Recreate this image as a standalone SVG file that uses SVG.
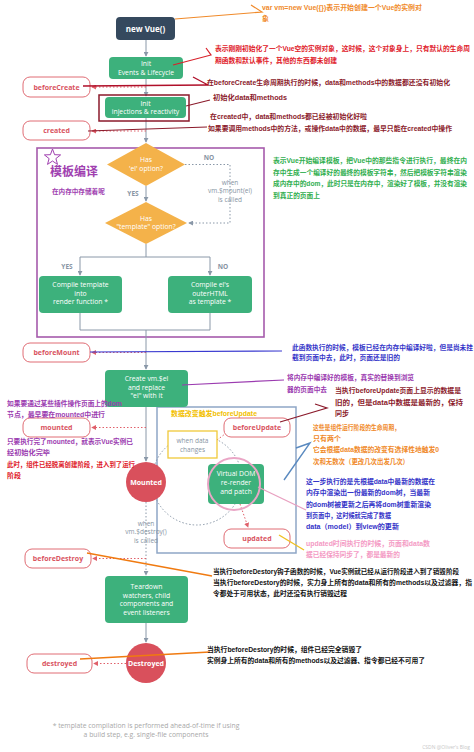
<svg xmlns="http://www.w3.org/2000/svg" width="474" height="752" viewBox="0 0 474 752">
<defs>
<style>
.flow{stroke:#8a98a8;stroke-width:1;fill:none}
.dot{stroke:#8a98a8;stroke-width:1;fill:none;stroke-dasharray:1.5 2}
.rdot{stroke:#e0606a;stroke-width:1;fill:none;stroke-dasharray:1.5 2}
.g rect{fill:#3db17c}
.g text,.c text,.d text{fill:#fff;font-family:"Open Sans","Noto Sans",sans-serif;font-size:6.8px;text-anchor:middle}
.d polygon{fill:#f4b24a}
.hook rect{fill:#fff;stroke:#e06d75;stroke-width:1}
.hook text{fill:#d9545f;font-family:"Open Sans","Noto Sans",sans-serif;font-weight:bold;font-size:7px;text-anchor:middle}
.c circle{fill:#d9505c}
.c text{font-weight:bold;font-size:7px}
.lbl{fill:#8794a3;font-family:"Open Sans","Noto Sans",sans-serif;font-size:6.5px;text-anchor:middle}
.lblb{fill:#8794a3;font-family:"Open Sans","Noto Sans",sans-serif;font-size:6.5px;font-weight:bold;text-anchor:middle}
.ann{font-family:"Liberation Sans","Noto Sans CJK SC",sans-serif;font-weight:bold;font-size:7px}
.sm{font-size:6.3px}
</style>
<marker id="ag" viewBox="0 0 6 6" refX="5" refY="3" markerWidth="5" markerHeight="5" orient="auto"><path d="M0,0L6,3L0,6z" fill="#8a98a8"/></marker>
<marker id="ar" viewBox="0 0 6 6" refX="5" refY="3" markerWidth="5" markerHeight="5" orient="auto"><path d="M0,0L6,3L0,6z" fill="#e0606a"/></marker>
</defs>
<rect width="474" height="752" fill="#fff"/>

<!-- background frames -->
<g id="template-compile-frame">
<rect x="37" y="148" width="227" height="189" fill="none" stroke="#a65aac" stroke-width="1.6"/>
<polygon points="52.5,149 54.6,154.7 60.6,154.9 55.9,158.6 57.5,164.4 52.5,161 47.5,164.4 49.1,158.6 44.4,154.9 50.4,154.7" fill="none" stroke="#a040b0" stroke-width="1"/>
<text x="50" y="176" font-family="Liberation Sans,Noto Sans CJK SC,sans-serif" font-weight="bold" font-size="12" fill="#a040b0">模板编译</text>
<text x="52" y="193.5" font-family="Liberation Sans,Noto Sans CJK SC,sans-serif" font-weight="bold" font-size="6.6" fill="#a040b0">在内存中存储着呢</text>
</g>
<g id="update-frame">
<rect x="157" y="407" width="139" height="146" fill="none" stroke="#8ea6c6" stroke-width="1.5"/>
<circle cx="197" cy="480" r="45" class="dot"/>
<text x="171" y="415.5" class="ann" fill="#f2c000" textLength="86" lengthAdjust="spacingAndGlyphs">数据改变触发beforeUpdate</text>
</g>

<!-- connectors -->
<g id="connectors">
<line x1="146" y1="40" x2="146" y2="56" class="flow" marker-end="url(#ag)"/>
<line x1="146" y1="79" x2="146" y2="96" class="flow" marker-end="url(#ag)"/>
<line x1="146" y1="118" x2="146" y2="142" class="flow" marker-end="url(#ag)"/>
<line x1="146" y1="186" x2="146" y2="201" class="flow" marker-end="url(#ag)"/>
<polyline points="185,164.5 230,164.5 230,223 189,223" class="dot" marker-end="url(#ag)"/>
<line x1="146" y1="244" x2="146" y2="257" class="flow"/>
<line x1="80" y1="257" x2="210" y2="257" class="flow"/>
<line x1="80" y1="257" x2="80" y2="275" class="flow" marker-end="url(#ag)"/>
<line x1="210" y1="257" x2="210" y2="275" class="flow" marker-end="url(#ag)"/>
<polyline points="80,313 80,330 210,330 210,313" class="flow"/>
<line x1="146" y1="330" x2="146" y2="369" class="flow" marker-end="url(#ag)"/>
<line x1="146" y1="407" x2="146" y2="461" class="flow" marker-end="url(#ag)"/>
<line x1="146" y1="502" x2="146" y2="575" class="dot" marker-end="url(#ag)"/>
<line x1="146" y1="623" x2="146" y2="642" class="flow" marker-end="url(#ag)"/>
<line x1="146" y1="87" x2="92" y2="87" class="rdot" marker-end="url(#ar)"/>
<line x1="146" y1="131" x2="92" y2="131" class="rdot" marker-end="url(#ar)"/>
<line x1="146" y1="352.5" x2="92" y2="352.5" class="rdot" marker-end="url(#ar)"/>
<line x1="146" y1="427.5" x2="92" y2="427.5" class="rdot" marker-end="url(#ar)"/>
<line x1="146" y1="558.5" x2="93" y2="558.5" class="rdot" marker-end="url(#ar)"/>
<line x1="126" y1="663.5" x2="94" y2="663.5" class="rdot" marker-end="url(#ar)"/>
<line x1="217" y1="440" x2="229" y2="431" class="rdot" marker-end="url(#ar)"/>
<line x1="240" y1="504" x2="248" y2="527" class="rdot" marker-end="url(#ar)"/>
<text x="209" y="159.5" class="lblb" text-anchor="start">NO</text>
<text x="230" y="184.5" class="lbl">when</text>
<text x="230" y="193" class="lbl">vm.$mount(el)</text>
<text x="230" y="201.5" class="lbl">is called</text>
<text x="133" y="195.5" class="lblb">YES</text>
<text x="67" y="268.5" class="lblb">YES</text>
<text x="223" y="268.5" class="lblb">NO</text>
<text x="146" y="525.5" class="lbl">when</text>
<text x="146" y="534" class="lbl">vm.$destroy()</text>
<text x="146" y="542.5" class="lbl">is called</text>
</g>

<!-- nodes -->
<g id="new-vue">
<rect x="116" y="17" width="59" height="23" rx="4" fill="#35495e"/>
<text x="145.5" y="31.5" fill="#fff" font-family="Open Sans,Noto Sans,sans-serif" font-weight="bold" font-size="8" text-anchor="middle">new Vue()</text>
</g>
<g id="init-events" class="g">
<rect x="109" y="57" width="74" height="22" rx="4"/>
<text x="146" y="66">Init</text>
<text x="146" y="75">Events &amp; Lifecycle</text>
</g>
<g id="before-create" class="hook">
<rect x="23" y="77" width="67" height="20" rx="7"/>
<text x="56.5" y="89.5">beforeCreate</text>
</g>
<g id="init-injections" class="g">
<rect x="105" y="97" width="81" height="21" rx="4"/>
<text x="145.5" y="105.5">Init</text>
<text x="145.5" y="114">injections &amp; reactivity</text>
<rect x="99" y="95" width="90" height="26" style="fill:none;stroke:#8b1a2b;stroke-width:1.5"/>
</g>
<g id="created" class="hook">
<rect x="23" y="121" width="67" height="19" rx="7"/>
<text x="56.5" y="133">created</text>
</g>
<g id="has-el" class="d">
<polygon points="146,143 185,164.5 146,186 107,164.5"/>
<text x="146" y="162">Has</text>
<text x="146" y="170.5">'el' option?</text>
</g>
<g id="has-template" class="d">
<polygon points="146,202 187,223 146,244 105,223"/>
<text x="146" y="220.5">Has</text>
<text x="146" y="229">"template" option?</text>
</g>
<g id="compile-template" class="g">
<rect x="39" y="276" width="83" height="37" rx="4"/>
<text x="80.5" y="287">Compile template</text>
<text x="80.5" y="295.5">into</text>
<text x="80.5" y="304">render function *</text>
</g>
<g id="compile-el" class="g">
<rect x="168" y="276" width="84" height="37" rx="4"/>
<text x="210" y="287">Compile el's</text>
<text x="210" y="295.5">outerHTML</text>
<text x="210" y="304">as template *</text>
</g>
<g id="before-mount" class="hook">
<rect x="23" y="343" width="67" height="19" rx="7"/>
<text x="56.5" y="355">beforeMount</text>
</g>
<g id="create-el" class="g">
<rect x="105" y="370" width="83" height="37" rx="4"/>
<text x="146.5" y="381">Create vm.$el</text>
<text x="146.5" y="389.5">and replace</text>
<text x="146.5" y="398">"el" with it</text>
</g>
<g id="mounted" class="hook">
<rect x="23" y="418" width="67" height="19" rx="7"/>
<text x="56.5" y="430">mounted</text>
</g>
<g id="mounted-state" class="c">
<circle cx="146" cy="482" r="20"/>
<text x="146" y="484.5">Mounted</text>
</g>
<g id="when-data-changes">
<rect x="168" y="431" width="49" height="27" fill="#fff" stroke="#f0c93a" stroke-width="1.3"/>
<text x="192.5" y="442.5" class="lbl">when data</text>
<text x="192.5" y="451.5" class="lbl">changes</text>
</g>
<g id="before-update" class="hook">
<rect x="224" y="418" width="66" height="19" rx="7"/>
<text x="257" y="430">beforeUpdate</text>
</g>
<g id="virtual-dom" class="g">
<rect x="208" y="464" width="56" height="40" rx="4"/>
<text x="236" y="476">Virtual DOM</text>
<text x="236" y="485">re-render</text>
<text x="236" y="494">and patch</text>
<circle cx="234" cy="484" r="26" fill="none" stroke="#eaa6c6" stroke-width="2"/>
</g>
<g id="updated" class="hook">
<rect x="224" y="529" width="66" height="19" rx="7"/>
<text x="257" y="541">updated</text>
</g>
<g id="before-destroy" class="hook">
<rect x="25" y="549" width="66" height="19" rx="7"/>
<text x="58" y="561">beforeDestroy</text>
</g>
<g id="teardown" class="g">
<rect x="105" y="576" width="83" height="47" rx="4"/>
<text x="146.5" y="589">Teardown</text>
<text x="146.5" y="597.5">watchers, child</text>
<text x="146.5" y="606">components and</text>
<text x="146.5" y="614.5">event listeners</text>
</g>
<g id="destroyed-state" class="c">
<circle cx="146" cy="663" r="20"/>
<text x="146" y="665.5">Destroyed</text>
</g>
<g id="destroyed" class="hook">
<rect x="27" y="654" width="65" height="19" rx="7"/>
<text x="59.5" y="666">destroyed</text>
</g>

<!-- annotations -->
<g id="annotations" class="ann">
<g stroke-width="1.2" fill="none">
<polyline points="175,19 262,12 251,5" stroke="#f08a2a"/>
<polyline points="173,65 211,55 206,48" stroke="#d8202a"/>
<polyline points="83,86 208,85 193,77" stroke="#b0102a" stroke-width="1.4"/>
<line x1="186" y1="106" x2="210" y2="100" stroke="#8b1a2b"/>
<line x1="88" y1="131" x2="207" y2="127" stroke="#8b1a2b"/>
<line x1="90" y1="352" x2="282" y2="351" stroke="#3a3ad0"/>
<line x1="182" y1="385" x2="284" y2="380" stroke="#9b3bb0"/>
<polyline points="280,422 327,408 315,404" stroke="#8b1a2b"/>
<polyline points="284,480 310,443 296,448" stroke="#5a8ac0" stroke-width="1.4"/>
<line x1="258" y1="487" x2="306" y2="510" stroke="#e8a0c0"/>
<line x1="279" y1="535" x2="304" y2="550" stroke="#f0c020" stroke-width="1.4"/>
<line x1="87" y1="553" x2="212" y2="576" stroke="#f07a10" stroke-width="1.4"/>
<line x1="80" y1="659" x2="210" y2="652" stroke="#f07a10" stroke-width="1.4"/>
</g>
<g fill="#f08a2a">
<text x="262" y="9.5" textLength="160" lengthAdjust="spacingAndGlyphs">var vm=new Vue({})表示开始创建一个Vue的实例对</text>
<text x="262" y="20.5">象</text>
</g>
<g fill="#e0202a">
<text x="215" y="51" class="sm" textLength="255" lengthAdjust="spacingAndGlyphs">表示刚刚初始化了一个Vue空的实例对象，这时候，这个对象身上，只有默认的生命周</text>
<text x="215" y="62.5" textLength="122" lengthAdjust="spacingAndGlyphs">期函数和默认事件，其他的东西都未创建</text>
</g>
<g fill="#8b1a2b">
<text x="207" y="84.5" textLength="243" lengthAdjust="spacingAndGlyphs">在beforeCreate生命周期执行的时候，data和methods中的数据都还没有初始化</text>
<text x="213" y="99.5" textLength="74" lengthAdjust="spacingAndGlyphs">初始化data和methods</text>
<text x="210" y="118.5" textLength="157" lengthAdjust="spacingAndGlyphs">在created中，data和methods都已经被初始化好啦</text>
<text x="208" y="130.5" textLength="244" lengthAdjust="spacingAndGlyphs">如果要调用methods中的方法，或操作data中的数据，最早只能在created中操作</text>
</g>
<g fill="#2fae4e">
<text x="273" y="162.5" class="sm" textLength="194" lengthAdjust="spacingAndGlyphs">表示Vue开始编译模板，把Vue中的那些指令进行执行，最终在内</text>
<text x="273" y="174.5" class="sm" textLength="194" lengthAdjust="spacingAndGlyphs">存中生成一个编译好的最终的模板字符串，然后把模板字符串渲染</text>
<text x="273" y="185.5" class="sm" textLength="194" lengthAdjust="spacingAndGlyphs">成内存中的dom，此时只是在内存中，渲染好了模板，并没有渲染</text>
<text x="273" y="197.5" textLength="47" lengthAdjust="spacingAndGlyphs">到真正的页面上</text>
</g>
<g fill="#3434c8">
<text x="292" y="349.5" class="sm" textLength="181" lengthAdjust="spacingAndGlyphs">此函数执行的时候，模板已经在内存中编译好啦，但是尚未挂</text>
<text x="292" y="359.5" textLength="108" lengthAdjust="spacingAndGlyphs">载到页面中去，此时，页面还是旧的</text>
</g>
<g fill="#9b3bb0">
<text x="287" y="379.5" textLength="127" lengthAdjust="spacingAndGlyphs">将内存中编译好的模板，真实的替换到浏览</text>
<text x="287" y="391.5" textLength="40" lengthAdjust="spacingAndGlyphs">器的页面中去</text>
<text x="7" y="405.5" textLength="115" lengthAdjust="spacingAndGlyphs">如果要通过某些插件操作页面上的dom</text>
<text x="7" y="416.5" textLength="98" lengthAdjust="spacingAndGlyphs">节点，最早要在mounted中进行</text>
<text x="7" y="443.5" textLength="126" lengthAdjust="spacingAndGlyphs">只要执行完了mounted，就表示Vue实例已</text>
<text x="7" y="454.5" textLength="43" lengthAdjust="spacingAndGlyphs">经初始化完毕</text>
</g>
<g fill="#e0202a">
<text x="7" y="466.5" textLength="128" lengthAdjust="spacingAndGlyphs">此时，组件已经脱离创建阶段，进入到了运行</text>
<text x="7" y="477.5">阶段</text>
</g>
<g fill="#8b1a2b">
<text x="335" y="392.5" textLength="126" lengthAdjust="spacingAndGlyphs">当执行beforeUpdate页面上显示的数据是</text>
<text x="335" y="404.5" textLength="128" lengthAdjust="spacingAndGlyphs">旧的，但是data中数据是最新的，保持</text>
<text x="335" y="415.5">同步</text>
</g>
<g fill="#f08a2a">
<text x="313" y="429.5" textLength="87" lengthAdjust="spacingAndGlyphs">这些是组件运行阶段的生命周期，</text>
<text x="313" y="440.5">只有两个</text>
<text x="313" y="451.5" textLength="126" lengthAdjust="spacingAndGlyphs">它会根据data数据的改变有选择性地触发0</text>
<text x="313" y="463.5" textLength="96" lengthAdjust="spacingAndGlyphs">次和无数次（更改几次出发几次）</text>
</g>
<g fill="#3434c8">
<text x="306" y="483.5" textLength="129" lengthAdjust="spacingAndGlyphs">这一步执行的是先根据data中最新的数据在</text>
<text x="306" y="494.5" textLength="124" lengthAdjust="spacingAndGlyphs">内存中渲染出一份最新的dom树，当最新</text>
<text x="306" y="506.5" textLength="125" lengthAdjust="spacingAndGlyphs">的dom树被更新之后再将dom树重新渲染</text>
<text x="306" y="517.5" textLength="85" lengthAdjust="spacingAndGlyphs">到页面中，这时候就完成了数据</text>
<text x="306" y="528.5" textLength="93" lengthAdjust="spacingAndGlyphs">data（model）到view的更新</text>
</g>
<g fill="#f49ac4">
<text x="306" y="545.5" textLength="124" lengthAdjust="spacingAndGlyphs">updated时间执行的时候，页面和data数</text>
<text x="306" y="556.5" textLength="94" lengthAdjust="spacingAndGlyphs">据已经保持同步了，都是最新的</text>
</g>
<g fill="#111">
<text x="213" y="573.5" class="sm" textLength="246" lengthAdjust="spacingAndGlyphs">当执行beforeDestory钩子函数的时候，Vue实例就已经从运行阶段进入到了销毁阶段</text>
<text x="213" y="584.5" class="sm" textLength="259" lengthAdjust="spacingAndGlyphs">当执行beforeDestory的时候，实力身上所有的data和所有的methods以及过滤器，指</text>
<text x="213" y="595.5" textLength="134" lengthAdjust="spacingAndGlyphs">令都处于可用状态，此时还没有执行销毁过程</text>
<text x="207" y="651.5" textLength="155" lengthAdjust="spacingAndGlyphs">当执行beforeDestory的时候，组件已经完全销毁了</text>
<text x="207" y="662.5" textLength="218" lengthAdjust="spacingAndGlyphs">实例身上所有的data和所有的methods以及过滤器、指令都已经不可用了</text>
</g>
</g>

<g id="footnote" font-family="Open Sans,Noto Sans,sans-serif" font-size="6.8" fill="#a8a8a8" text-anchor="middle">
<text x="146" y="727.5">* template compilation is performed ahead-of-time if using</text>
<text x="146" y="736.5">a build step, e.g. single-file components</text>
<text x="470" y="748.5" font-size="5" fill="#c8c8c8" text-anchor="end">CSDN @Oliver's Blog</text>
</g>
</svg>
